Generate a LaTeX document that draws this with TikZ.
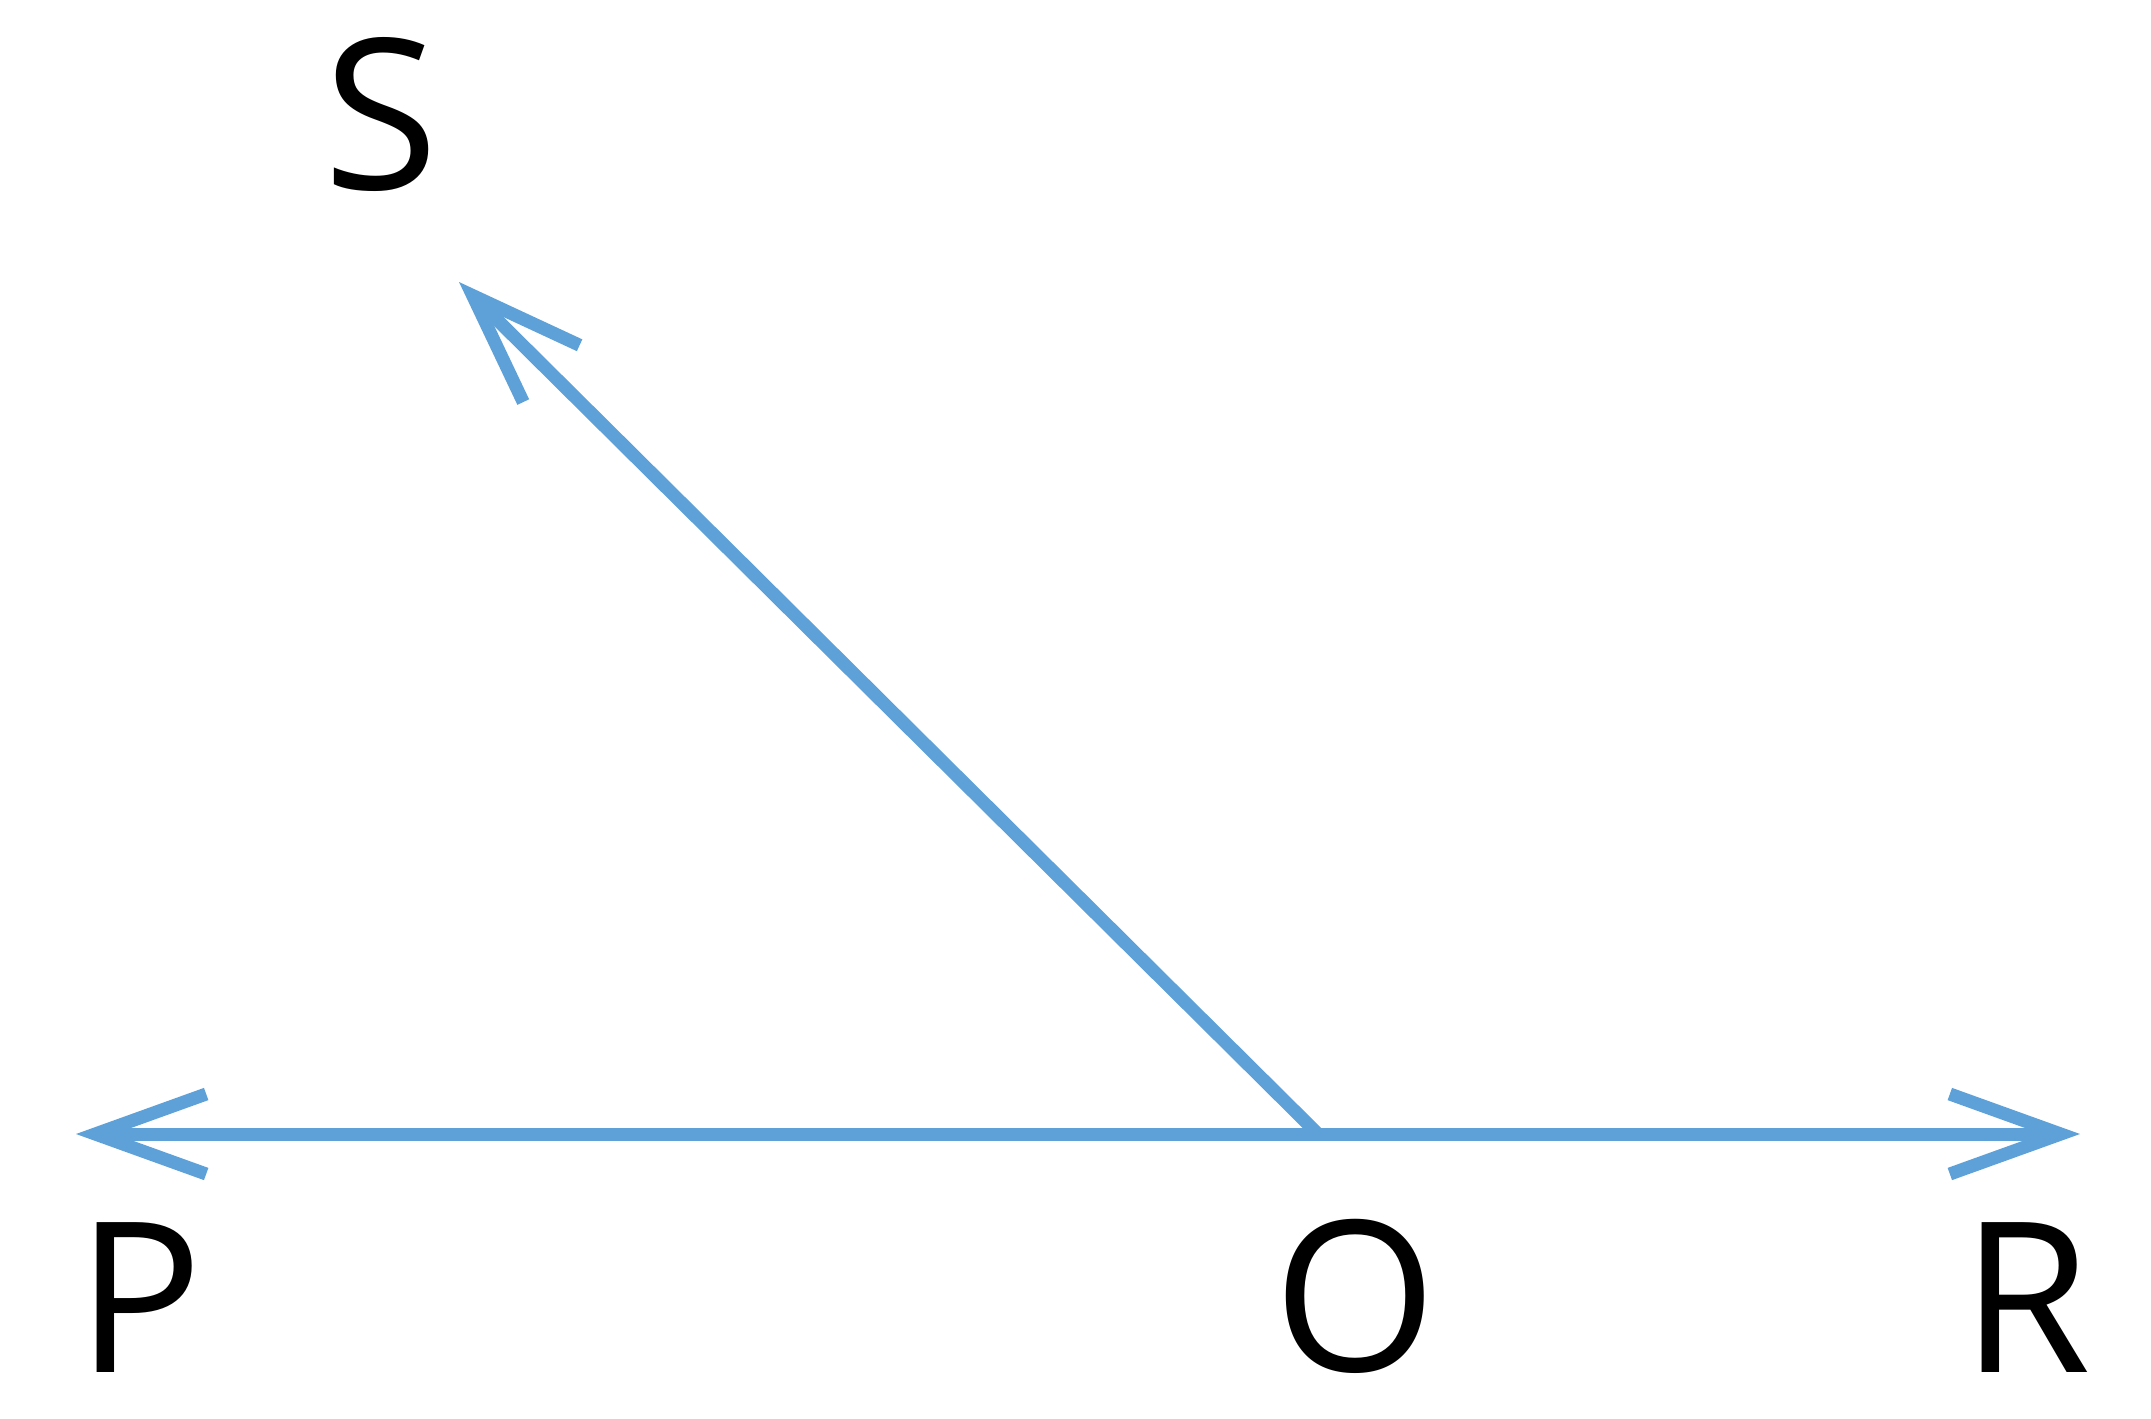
\documentclass[tikz,border=0pt]{standalone}
\usepackage{fontspec}
\setmainfont{Open Sans}
\usetikzlibrary{arrows.meta}
\definecolor{rayblue}{RGB}{94,161,216}
\tikzset{
  ray/.style={draw=rayblue, line width=13pt, line cap=butt,
    -{Straight Barb[sharp, length=111pt, width=80pt]}},
  lbl/.style={anchor=base, inner sep=0pt, font=\fontsize{210}{210}\selectfont, text=black}
}
\begin{document}
\begin{tikzpicture}[x=1pt,y=-1pt]
  \useasboundingbox (0,0) rectangle (2151,1418);
  \coordinate (O) at (1318,1134);
  \coordinate (Pend) at (76,1134);
  \coordinate (Rend) at (2080,1134);
  \coordinate (Send) at (459,282);
  \draw[ray] (O) -- (Send);
  \draw[ray] (O) -- (Pend);
  \draw[ray] (O) -- (Rend);
  \node[lbl] (S) at (381,189) {S};
  \node[lbl] (P) at (140,1372) {P};
  \node[lbl] (Ol) at (1355,1371) {O};
  \node[lbl] (R) at (2026,1372) {R};
\end{tikzpicture}
\end{document}
